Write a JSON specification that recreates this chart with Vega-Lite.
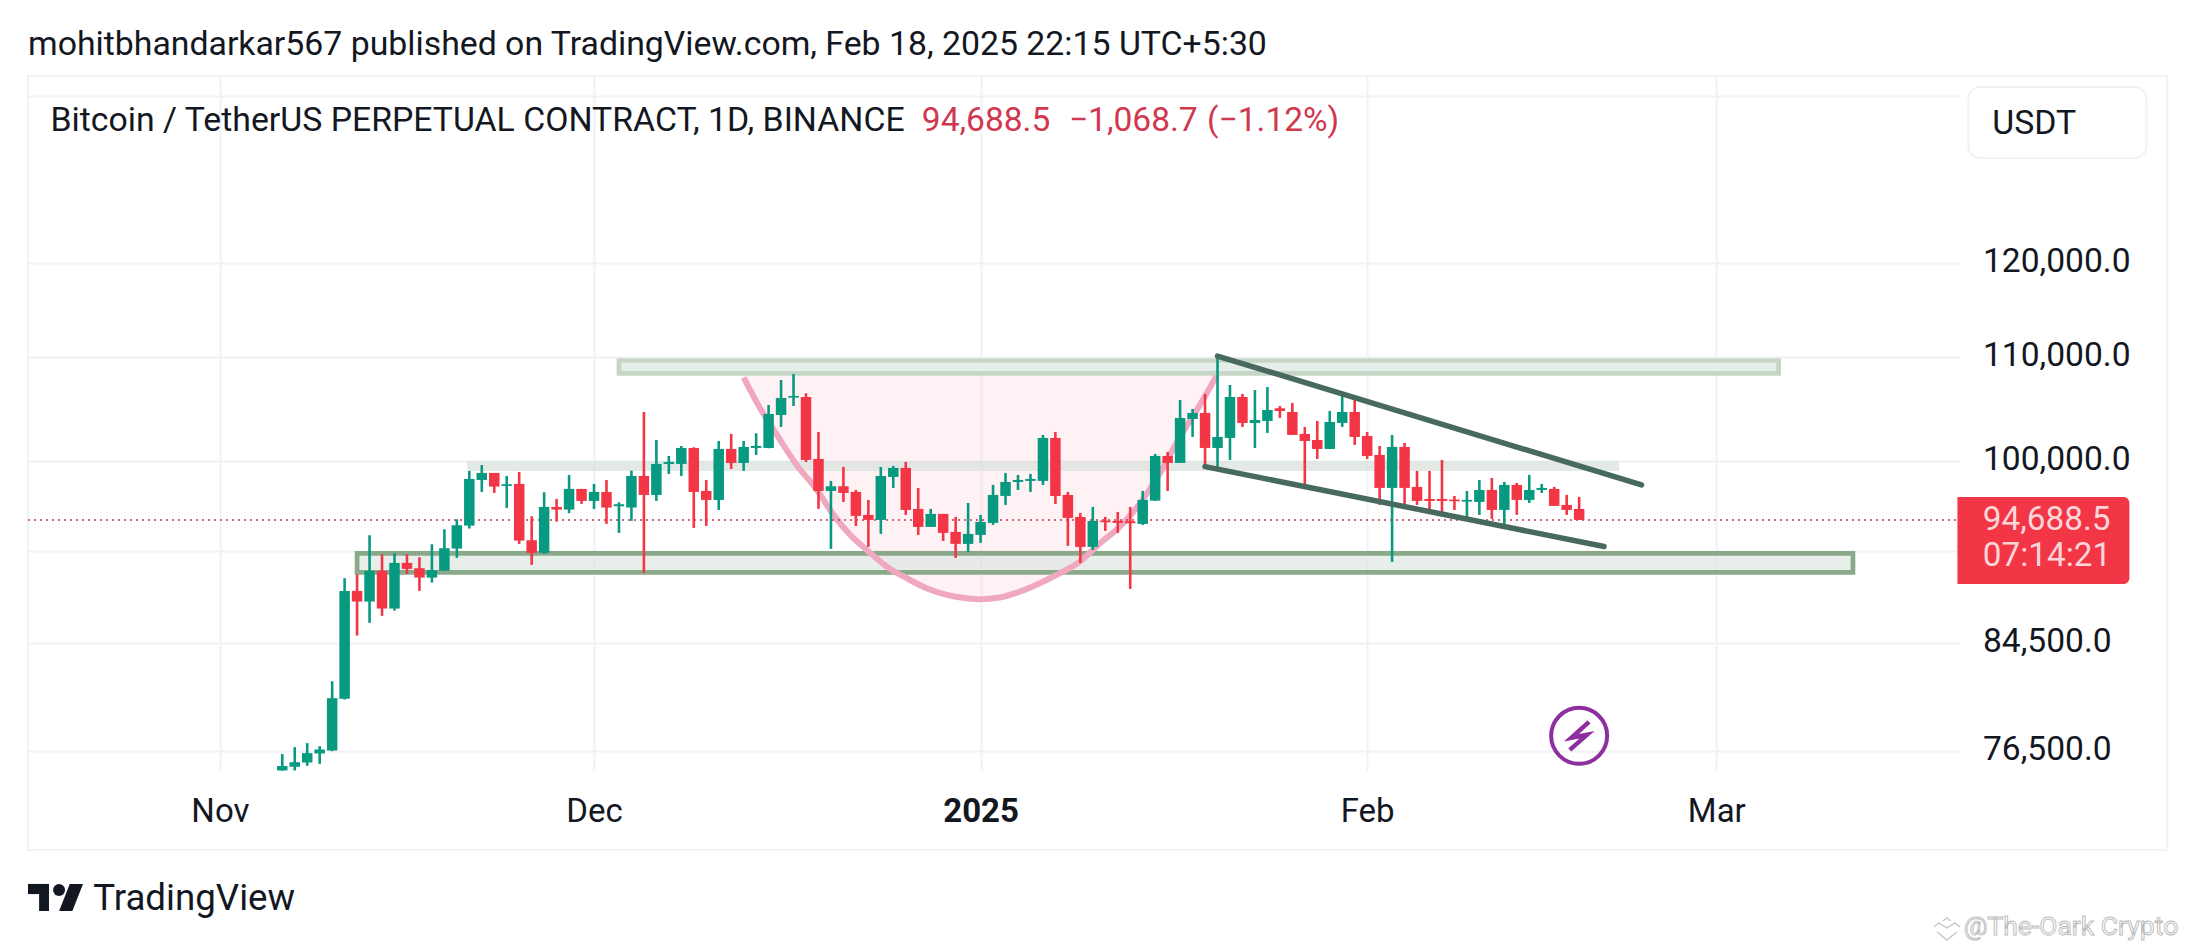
{
  "$schema": "https://vega.github.io/schema/vega-lite/v6.json",
  "width": 1932, "height": 694,
  "autosize": "none",
  "padding": {"left": 28, "top": 76, "right": 227, "bottom": 178},
  "background": "#ffffff",
  "config": {"view": {"stroke": null}, "font": "Roboto"},
  "title": {
    "text": "mohitbhandarkar567 published on TradingView.com, Feb 18, 2025 22:15 UTC+5:30",
    "anchor": "start", "frame": "group", "dx": 0, "offset": 13,
    "font": "Roboto", "fontSize": 33.8, "fontWeight": "normal", "color": "#131722"
  },
  "datasets": {
    "candles": [
      {"date":"2024-11-06","open":75160,"high":76310,"low":75160,"close":75470},
      {"date":"2024-11-07","open":75420,"high":76800,"low":75160,"close":75740},
      {"date":"2024-11-08","open":75717,"high":77080,"low":75486,"close":76373},
      {"date":"2024-11-09","open":76350,"high":76867,"low":75623,"close":76630},
      {"date":"2024-11-10","open":76560,"high":81610,"low":76513,"close":80343},
      {"date":"2024-11-11","open":80293,"high":89735,"low":80244,"close":88694},
      {"date":"2024-11-12","open":88694,"high":90062,"low":85118,"close":87826},
      {"date":"2024-11-13","open":87826,"high":93362,"low":86117,"close":90343},
      {"date":"2024-11-14","open":90343,"high":91741,"low":86674,"close":87262},
      {"date":"2024-11-15","open":87262,"high":91828,"low":87100,"close":91011},
      {"date":"2024-11-16","open":91011,"high":91741,"low":90095,"close":90510},
      {"date":"2024-11-17","open":90566,"high":91487,"low":88694,"close":89790},
      {"date":"2024-11-18","open":89790,"high":92592,"low":89378,"close":90398},
      {"date":"2024-11-19","open":90371,"high":93879,"low":90343,"close":92250},
      {"date":"2024-11-20","open":92221,"high":94747,"low":91432,"close":94225},
      {"date":"2024-11-21","open":94197,"high":99063,"low":93938,"close":98334},
      {"date":"2024-11-22","open":98244,"high":99606,"low":97164,"close":98880},
      {"date":"2024-11-23","open":98880,"high":98880,"low":97073,"close":97644},
      {"date":"2024-11-24","open":97704,"high":98608,"low":95743,"close":97854},
      {"date":"2024-11-25","open":97884,"high":98972,"low":92620,"close":92904},
      {"date":"2024-11-26","open":92933,"high":95010,"low":90845,"close":91856},
      {"date":"2024-11-27","open":91856,"high":97134,"low":91770,"close":95831},
      {"date":"2024-11-28","open":95831,"high":96539,"low":94544,"close":95595},
      {"date":"2024-11-29","open":95595,"high":98698,"low":95274,"close":97433},
      {"date":"2024-11-30","open":97433,"high":97433,"low":96096,"close":96361},
      {"date":"2024-12-01","open":96361,"high":97884,"low":95655,"close":97164},
      {"date":"2024-12-02","open":97164,"high":98244,"low":94341,"close":95773},
      {"date":"2024-12-03","open":95890,"high":96243,"low":93563,"close":96066},
      {"date":"2024-12-04","open":95773,"high":99092,"low":94602,"close":98608},
      {"date":"2024-12-05","open":98608,"high":104594,"low":90178,"close":96896},
      {"date":"2024-12-06","open":96896,"high":101932,"low":96361,"close":99704},
      {"date":"2024-12-07","open":99704,"high":100439,"low":98789,"close":99887},
      {"date":"2024-12-08","open":99704,"high":101370,"low":98608,"close":101184},
      {"date":"2024-12-09","open":101184,"high":101245,"low":93993,"close":97164},
      {"date":"2024-12-10","open":97253,"high":98244,"low":94167,"close":96450},
      {"date":"2024-12-11","open":96450,"high":101838,"low":95566,"close":101090},
      {"date":"2024-12-12","open":101090,"high":102498,"low":99244,"close":99795},
      {"date":"2024-12-13","open":99795,"high":101838,"low":99063,"close":101277},
      {"date":"2024-12-14","open":101184,"high":102561,"low":100534,"close":101370},
      {"date":"2024-12-15","open":101184,"high":105273,"low":101153,"close":104404},
      {"date":"2024-12-16","open":104306,"high":107725,"low":103160,"close":105954},
      {"date":"2024-12-17","open":105986,"high":108328,"low":105176,"close":106150},
      {"date":"2024-12-18","open":106051,"high":106411,"low":99887,"close":100071},
      {"date":"2024-12-19","open":100164,"high":102686,"low":95655,"close":97253},
      {"date":"2024-12-20","open":97253,"high":98153,"low":92193,"close":97673},
      {"date":"2024-12-21","open":97673,"high":99428,"low":96273,"close":97073},
      {"date":"2024-12-22","open":97164,"high":97343,"low":94167,"close":95040},
      {"date":"2024-12-23","open":95128,"high":96450,"low":92364,"close":94689},
      {"date":"2024-12-24","open":94689,"high":99428,"low":93477,"close":98608},
      {"date":"2024-12-25","open":98517,"high":99520,"low":97523,"close":99337},
      {"date":"2024-12-26","open":99337,"high":99887,"low":95128,"close":95566},
      {"date":"2024-12-27","open":95655,"high":97523,"low":93391,"close":94082},
      {"date":"2024-12-28","open":94082,"high":95655,"low":94082,"close":95215},
      {"date":"2024-12-29","open":95215,"high":95215,"low":92876,"close":93563},
      {"date":"2024-12-30","open":93649,"high":94952,"low":91432,"close":92620},
      {"date":"2024-12-31","open":92620,"high":96184,"low":91939,"close":93477},
      {"date":"2025-01-01","open":93391,"high":95128,"low":92705,"close":94515},
      {"date":"2025-01-02","open":94428,"high":97794,"low":94255,"close":96896},
      {"date":"2025-01-03","open":96807,"high":98880,"low":96007,"close":98064},
      {"date":"2025-01-04","open":98064,"high":98698,"low":97343,"close":98244},
      {"date":"2025-01-05","open":98154,"high":98789,"low":97164,"close":98334},
      {"date":"2025-01-06","open":98154,"high":102404,"low":97794,"close":102121},
      {"date":"2025-01-07","open":102121,"high":102686,"low":96096,"close":96807},
      {"date":"2025-01-08","open":96896,"high":97164,"low":92450,"close":94864},
      {"date":"2025-01-09","open":94952,"high":95303,"low":91011,"close":92364},
      {"date":"2025-01-10","open":92364,"high":95831,"low":92108,"close":94602},
      {"date":"2025-01-11","open":94631,"high":94952,"low":93735,"close":94486},
      {"date":"2025-01-12","open":94602,"high":95391,"low":93563,"close":94428},
      {"date":"2025-01-13","open":94573,"high":95831,"low":88857,"close":94399},
      {"date":"2025-01-14","open":94341,"high":97253,"low":94255,"close":96450},
      {"date":"2025-01-15","open":96391,"high":100627,"low":96361,"close":100441},
      {"date":"2025-01-16","open":100441,"high":100812,"low":97253,"close":99795},
      {"date":"2025-01-17","open":99795,"high":105758,"low":99795,"close":104019},
      {"date":"2025-01-18","open":103923,"high":104885,"low":102216,"close":104500},
      {"date":"2025-01-19","open":104500,"high":106346,"low":99459,"close":101184},
      {"date":"2025-01-20","open":101184,"high":110130,"low":99306,"close":102216},
      {"date":"2025-01-21","open":102121,"high":107230,"low":100071,"close":106051},
      {"date":"2025-01-22","open":106051,"high":106346,"low":103160,"close":103541},
      {"date":"2025-01-23","open":103541,"high":106737,"low":101184,"close":103827},
      {"date":"2025-01-24","open":103732,"high":107032,"low":102592,"close":104788},
      {"date":"2025-01-25","open":104950,"high":105176,"low":104019,"close":104692},
      {"date":"2025-01-26","open":104594,"high":105467,"low":102404,"close":102404},
      {"date":"2025-01-27","open":102498,"high":103160,"low":97614,"close":101838},
      {"date":"2025-01-28","open":101932,"high":103732,"low":100164,"close":101090},
      {"date":"2025-01-29","open":101090,"high":104692,"low":101090,"close":103636},
      {"date":"2025-01-30","open":103541,"high":106248,"low":103160,"close":104594},
      {"date":"2025-01-31","open":104594,"high":106051,"low":101464,"close":102216},
      {"date":"2025-02-01","open":102310,"high":102686,"low":100164,"close":100441},
      {"date":"2025-02-02","open":100534,"high":101370,"low":96007,"close":97523},
      {"date":"2025-02-03","open":97523,"high":102404,"low":91095,"close":101277},
      {"date":"2025-02-04","open":101277,"high":101651,"low":96007,"close":97523},
      {"date":"2025-02-05","open":97614,"high":99063,"low":96007,"close":96361},
      {"date":"2025-02-06","open":96539,"high":99063,"low":95566,"close":96361},
      {"date":"2025-02-07","open":96539,"high":100071,"low":95391,"close":96361},
      {"date":"2025-02-08","open":96480,"high":96807,"low":95566,"close":96332},
      {"date":"2025-02-09","open":96302,"high":97253,"low":94689,"close":96450},
      {"date":"2025-02-10","open":96273,"high":98244,"low":95128,"close":97343},
      {"date":"2025-02-11","open":97343,"high":98424,"low":94777,"close":95566},
      {"date":"2025-02-12","open":95566,"high":98064,"low":94082,"close":97794},
      {"date":"2025-02-13","open":97794,"high":97974,"low":95128,"close":96450},
      {"date":"2025-02-14","open":96450,"high":98698,"low":96184,"close":97343},
      {"date":"2025-02-15","open":97343,"high":97884,"low":97073,"close":97523},
      {"date":"2025-02-16","open":97433,"high":97614,"low":95920,"close":95920},
      {"date":"2025-02-17","open":96007,"high":96896,"low":95128,"close":95566},
      {"date":"2025-02-18","open":95655,"high":96717,"low":94688.5,"close":94688.5}
    ],
    "cup": [
      {"date":"2024-12-13T00:00:00Z","price":107958,"price2":108124},
      {"date":"2024-12-14T04:00:00Z","price":105273,"price2":108124},
      {"date":"2024-12-15T16:00:00Z","price":102404,"price2":108124},
      {"date":"2024-12-17T06:00:00Z","price":99612,"price2":108124},
      {"date":"2024-12-18T21:00:00Z","price":97343,"price2":108124},
      {"date":"2024-12-20T05:00:00Z","price":95128,"price2":108124},
      {"date":"2024-12-21T13:00:00Z","price":93391,"price2":108124},
      {"date":"2024-12-22T21:00:00Z","price":92108,"price2":108124},
      {"date":"2024-12-24T11:00:00Z","price":90705,"price2":108124},
      {"date":"2024-12-26T02:00:00Z","price":89735,"price2":108124},
      {"date":"2024-12-27T16:00:00Z","price":88912,"price2":108124},
      {"date":"2024-12-29T07:00:00Z","price":88368,"price2":108124},
      {"date":"2024-12-30T21:00:00Z","price":88097,"price2":108124},
      {"date":"2024-12-31T23:00:00Z","price":88015,"price2":108124},
      {"date":"2025-01-02T13:00:00Z","price":88151,"price2":108124},
      {"date":"2025-01-04T04:00:00Z","price":88640,"price2":108124},
      {"date":"2025-01-05T18:00:00Z","price":89324,"price2":108124},
      {"date":"2025-01-07T09:00:00Z","price":90150,"price2":108124},
      {"date":"2025-01-08T23:00:00Z","price":91123,"price2":108124},
      {"date":"2025-01-10T14:00:00Z","price":92677,"price2":108124},
      {"date":"2025-01-12T04:00:00Z","price":94110,"price2":108124},
      {"date":"2025-01-13T19:00:00Z","price":96155,"price2":108124},
      {"date":"2025-01-15T09:00:00Z","price":98850,"price2":108124},
      {"date":"2025-01-17T00:00:00Z","price":102245,"price2":108124},
      {"date":"2025-01-18T14:00:00Z","price":105273,"price2":108124},
      {"date":"2025-01-19T22:00:00Z","price":108124,"price2":108124}
    ],
    "wedge": [
      {"line":"upper","date":"2025-01-20T00:00:00Z","price":110130},
      {"line":"upper","date":"2025-02-23T00:00:00Z","price":97794},
      {"line":"lower","date":"2025-01-19T00:00:00Z","price":99459},
      {"line":"lower","date":"2025-02-20T00:00:00Z","price":92393}
    ],
    "labels": [
      {"date":"2024-10-18T10:00:00Z","price":136720,"label":"Bitcoin / TetherUS PERPETUAL CONTRACT, 1D, BINANCE"},
      {"date":"2025-03-23T03:00:00Z","price":136390,"label":"USDT"}
    ],
    "quote": [
      {"date":"2024-12-27T07:00:00Z","price":136720,"label":"94,688.5"},
      {"date":"2025-01-08T02:00:00Z","price":136720,"label":"−1,068.7"},
      {"date":"2025-01-19T04:00:00Z","price":136720,"label":"(−1.12%)"}
    ],
    "tag": [
      {"date":"2025-03-22T09:00:00Z","price":94660,"label":"94,688.5"},
      {"date":"2025-03-22T09:00:00Z","price":91600,"label":"07:14:21"}
    ],
    "mark_bars": [
      {"date":"2024-10-16T14:38:00Z","date2":"2024-10-18T07:00:00Z","price":67700,"price2":67070},
      {"date":"2024-10-17T12:00:00Z","date2":"2024-10-18T07:00:00Z","price":67070,"price2":66030}
    ],
    "slash": [
      {"price":67700,"date":"2024-10-19T23:00:00Z","date2":"2024-10-21T00:30:00Z"},
      {"price":66030,"date":"2024-10-19T02:30:00Z","date2":"2024-10-20T04:00:00Z"}
    ],
    "chevrons": [
      {"part":"a","seq":1,"date":"2025-03-19T04:00:00Z","price":65430},
      {"part":"a","seq":2,"date":"2025-03-19T12:00:00Z","price":65610},
      {"part":"a","seq":3,"date":"2025-03-19T19:00:00Z","price":65430},
      {"part":"b","seq":1,"date":"2025-03-18T11:00:00Z","price":65070},
      {"part":"b","seq":2,"date":"2025-03-18T20:00:00Z","price":65310},
      {"part":"b","seq":3,"date":"2025-03-19T12:00:00Z","price":65010},
      {"part":"b","seq":4,"date":"2025-03-20T03:00:00Z","price":65310},
      {"part":"b","seq":5,"date":"2025-03-20T13:00:00Z","price":65070},
      {"part":"c","seq":1,"date":"2025-03-18T17:00:00Z","price":64770},
      {"part":"c","seq":2,"date":"2025-03-19T12:00:00Z","price":64290},
      {"part":"c","seq":3,"date":"2025-03-20T07:00:00Z","price":64770}
    ],
    "bolt": [
      {"seq":1,"date":"2025-02-18T19:00:00Z","price":78610},
      {"seq":2,"date":"2025-02-17T09:00:00Z","price":77459},
      {"seq":3,"date":"2025-02-18T15:00:00Z","price":77674},
      {"seq":4,"date":"2025-02-17T06:00:00Z","price":76607}
    ]
  },
  "data": {"name": "candles"},
  "encoding": {
    "x": {
      "field": "date", "type": "temporal", "title": null,
      "scale": {"type": "utc", "domain": ["2024-10-16T14:38:00Z", "2025-03-20T13:00:00Z"], "nice": false, "padding": 0},
      "axis": {
        "values": ["2024-11-01", "2024-12-01", "2025-01-01", "2025-02-01", "2025-03-01"],
        "labelExpr": "utcmonth(datum.value)==0 ? '2025' : utcFormat(datum.value,'%b')",
        "labelFontWeight": {"condition": {"test": "utcmonth(datum.value)==0", "value": "bold"}, "value": "normal"},
        "domain": false, "ticks": false, "grid": true, "gridColor": "#f1f2f5", "gridWidth": 2,
        "labelFont": "Roboto", "labelFontSize": 33, "labelColor": "#131722", "labelPadding": 25,
        "labelOverlap": false, "labelFlush": false
      }
    },
    "y": {
      "field": "price", "type": "quantitative", "title": null,
      "scale": {"type": "log", "domain": [75196, 142560], "nice": false, "zero": false},
      "axis": {
        "orient": "right",
        "values": [140000, 120000, 110000, 100000, 92000, 84500, 76500],
        "labelExpr": "datum.value==140000 || datum.value==92000 ? '' : format(datum.value, ',.1f')",
        "domain": false, "ticks": false, "grid": true, "gridColor": "#f1f2f5", "gridWidth": 2,
        "labelFont": "Roboto", "labelFontSize": 33.6, "labelColor": "#131722", "labelPadding": 22.5,
        "labelAlign": "left", "labelBaseline": "middle", "labelOffset": -1.5,
        "labelOverlap": false, "labelFlush": false
      }
    }
  },
  "layer": [
    {
      "data": {"values": [{"date":"2024-10-16T14:38:00Z","date2":"2025-04-06T04:00:00Z","price":142560,"price2":69855}]},
      "mark": {"type": "rect", "fill": null, "stroke": "#f1f2f5", "strokeWidth": 2},
      "encoding": {"x2": {"field": "date2"}, "y2": {"field": "price2"}}
    },
    {
      "data": {"name": "cup"},
      "mark": {"type": "area", "fill": "#f9b8c9", "opacity": 0.18},
      "encoding": {"y2": {"field": "price2"}}
    },
    {
      "data": {"values": [{"date":"2024-11-20T20:00:00Z","date2":"2025-02-21T05:00:00Z","price":99979,"price2":99062}]},
      "mark": {"type": "rect", "fill": "#d9e2dc", "opacity": 0.75},
      "encoding": {"x2": {"field": "date2"}, "y2": {"field": "price2"}}
    },
    {
      "data": {"values": [{"date":"2024-12-03T00:00:00Z","date2":"2025-03-06T00:00:00Z","price":109677,"price2":108373}]},
      "mark": {"type": "rect", "fill": "#e6eee9", "stroke": "#c6d6c6", "strokeWidth": 4.7},
      "encoding": {"x2": {"field": "date2"}, "y2": {"field": "price2"}}
    },
    {
      "data": {"values": [{"date":"2024-11-12T00:00:00Z","date2":"2025-03-11T23:00:00Z","price":91814,"price2":90219}]},
      "mark": {"type": "rect", "fill": "#d9e4dd", "fillOpacity": 0.6, "stroke": "#8aa98a", "strokeWidth": 4.7},
      "encoding": {"x2": {"field": "date2"}, "y2": {"field": "price2"}}
    },
    {
      "data": {"name": "cup"},
      "mark": {"type": "line", "stroke": "#f0a8c0", "strokeWidth": 6, "interpolate": "monotone"}
    },
    {
      "data": {"values": [{"date":"2024-10-16T14:38:00Z","date2":"2025-03-20T08:00:00Z","price":94688.5}]},
      "mark": {"type": "rule", "stroke": "#c9374a", "strokeWidth": 1.6, "strokeDash": [2, 4]},
      "encoding": {"x2": {"field": "date2"}}
    },
    {
      "mark": {"type": "rule", "strokeWidth": 2.6},
      "encoding": {
        "y": {
          "field": "low", "type": "quantitative", "title": null,
          "scale": {"type": "log", "domain": [75196, 142560], "nice": false, "zero": false},
          "axis": {
            "orient": "right",
            "values": [140000, 120000, 110000, 100000, 92000, 84500, 76500],
            "labelExpr": "datum.value==140000 || datum.value==92000 ? '' : format(datum.value, ',.1f')",
            "domain": false, "ticks": false, "grid": true, "gridColor": "#f1f2f5", "gridWidth": 2,
            "labelFont": "Roboto", "labelFontSize": 33.6, "labelColor": "#131722", "labelPadding": 22.5,
            "labelAlign": "left", "labelBaseline": "middle", "labelOffset": -1.5,
            "labelOverlap": false, "labelFlush": false
          }
        },
        "y2": {"field": "high"},
        "color": {"condition": {"test": "datum.close >= datum.open", "value": "#089981"}, "value": "#f23645"}
      }
    },
    {
      "mark": {"type": "bar", "size": 10.5},
      "encoding": {
        "y": {
          "field": "open", "type": "quantitative", "title": null,
          "scale": {"type": "log", "domain": [75196, 142560], "nice": false, "zero": false},
          "axis": {
            "orient": "right",
            "values": [140000, 120000, 110000, 100000, 92000, 84500, 76500],
            "labelExpr": "datum.value==140000 || datum.value==92000 ? '' : format(datum.value, ',.1f')",
            "domain": false, "ticks": false, "grid": true, "gridColor": "#f1f2f5", "gridWidth": 2,
            "labelFont": "Roboto", "labelFontSize": 33.6, "labelColor": "#131722", "labelPadding": 22.5,
            "labelAlign": "left", "labelBaseline": "middle", "labelOffset": -1.5,
            "labelOverlap": false, "labelFlush": false
          }
        },
        "y2": {"field": "close"},
        "color": {"condition": {"test": "datum.close >= datum.open", "value": "#089981"}, "value": "#f23645"}
      }
    },
    {
      "data": {"name": "wedge"},
      "mark": {"type": "line", "stroke": "#47695e", "strokeWidth": 5.5, "strokeCap": "round"},
      "encoding": {"detail": {"field": "line"}}
    },
    {
      "data": {"values": [{"date":"2025-03-20T08:00:00Z","date2":"2025-04-03T03:00:00Z","price":96717,"price2":89268}]},
      "mark": {"type": "rect", "fill": "#f23645", "cornerRadiusTopRight": 6, "cornerRadiusBottomRight": 6},
      "encoding": {"x2": {"field": "date2"}, "y2": {"field": "price2"}}
    },
    {
      "data": {"values": [{"date":"2025-03-21T05:00:00Z","date2":"2025-04-04T12:00:00Z","price":141120,"price2":132180}]},
      "mark": {"type": "rect", "fill": "#ffffff", "stroke": "#f1f2f5", "strokeWidth": 2, "cornerRadius": 12},
      "encoding": {"x2": {"field": "date2"}, "y2": {"field": "price2"}}
    },
    {
      "data": {"name": "labels"},
      "mark": {"type": "text", "align": "left", "baseline": "middle", "font": "Roboto", "fontSize": 33.8, "fill": "#131722"},
      "encoding": {"text": {"field": "label"}}
    },
    {
      "data": {"name": "quote"},
      "mark": {"type": "text", "align": "left", "baseline": "middle", "font": "Roboto", "fontSize": 33.5, "fill": "#d0384f"},
      "encoding": {"text": {"field": "label"}}
    },
    {
      "data": {"name": "tag"},
      "mark": {"type": "text", "align": "left", "baseline": "middle", "font": "Roboto", "fontSize": 33.3, "fill": "#fcd5da"},
      "encoding": {"text": {"field": "label"}}
    },
    {
      "data": {"values": [{"date":"2025-02-18","price":77603}]},
      "mark": {"type": "point", "filled": false, "stroke": "#8e2fa0", "strokeWidth": 4, "size": 3136, "opacity": 1}
    },
    {
      "data": {"name": "bolt"},
      "mark": {"type": "line", "stroke": "#8e2fa0", "strokeWidth": 4.5},
      "encoding": {"order": {"field": "seq"}}
    },
    {
      "data": {"name": "mark_bars"},
      "mark": {"type": "rect", "fill": "#131722"},
      "encoding": {"x2": {"field": "date2"}, "y2": {"field": "price2"}}
    },
    {
      "data": {"values": [{"date":"2024-10-19T02:24:00Z","price":67326}]},
      "mark": {"type": "point", "filled": true, "fill": "#131722", "size": 144, "opacity": 1}
    },
    {
      "data": {"name": "slash"},
      "mark": {"type": "area", "orient": "horizontal", "fill": "#131722"},
      "encoding": {"x2": {"field": "date2"}}
    },
    {
      "data": {"values": [{"date":"2024-10-21T20:00:00Z","price":66770,"label":"TradingView"}]},
      "mark": {"type": "text", "align": "left", "baseline": "middle", "font": "Roboto", "fontSize": 36.7, "fill": "#131722"},
      "encoding": {"text": {"field": "label"}}
    },
    {
      "data": {"values": [{"date":"2025-03-20T20:00:00Z","price":65070,"label":"@The-Oark Crypto"}]},
      "mark": {"type": "text", "align": "left", "baseline": "middle", "font": "Roboto", "fontSize": 26.5, "fill": "#ffffff", "stroke": "#bdbdbd", "strokeWidth": 1},
      "encoding": {"text": {"field": "label"}}
    },
    {
      "data": {"name": "chevrons"},
      "mark": {"type": "line", "stroke": "#c9c9c9", "strokeWidth": 1.4},
      "encoding": {"detail": {"field": "part"}, "order": {"field": "seq"}}
    }
  ]
}
